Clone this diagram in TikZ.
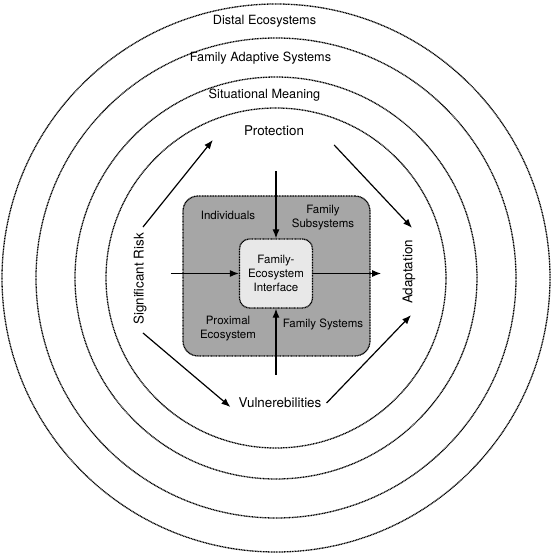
\documentclass[tikz,border=0pt]{standalone}
\usepackage{fontspec}
\setmainfont{TeX Gyre Heros}
\usetikzlibrary{arrows.meta}

\begin{document}
\begin{tikzpicture}[
        x=1pt, y=1pt,
        ring/.style={line width=1.3pt, dash pattern=on 1pt off 0.6pt},
        ringlbl/.style={font=\fontsize{12.7}{15}\selectfont, inner sep=2pt},
        midlbl/.style={font=\fontsize{13.4}{16}\selectfont, inner sep=2pt},
        boxlbl/.style={font=\fontsize{11.5}{14}\selectfont, align=center, inner sep=1pt},
        panel/.style={draw=black, line width=1.3pt, dash pattern=on 1pt off 0.6pt},
        arrow/.style={line width=1.2pt, -{Latex[length=9pt, width=7pt]}}
    ]
        \useasboundingbox (0, 0) rectangle (555, 555);

        \coordinate (c) at (276, 277);
        \draw[ring] (c) circle[radius=170pt];
        \draw[ring] (c) circle[radius=201pt];
        \draw[ring] (c) circle[radius=240pt];
        \draw[ring] (c) circle[radius=274pt];

        \node[ringlbl] (lbl_dist) at (264.5, 534) {Distal Ecosystems};
        \node[ringlbl] (lbl_fas) at (260.5, 497) {Family Adaptive Systems};
        \node[ringlbl] (lbl_sit) at (264.5, 460) {Situational Meaning};

        \node[panel, fill=black!35, rounded corners=15pt, minimum width=187pt, minimum height=160pt] (box_outer) at (276.5, 279) {};
        \node[panel, fill=black!9, rounded corners=10pt, minimum width=73pt, minimum height=69pt, boxlbl, inner sep=0pt] (box_inner) at (276, 281.5) {Family-\\Ecosystem\\Interface};

        \node[boxlbl] (lbl_ind) at (228, 340) {Individuals};
        \node[boxlbl] (lbl_sub) at (323, 337) {Family\\Subsystems};
        \node[boxlbl] (lbl_prox) at (228, 226) {Proximal\\Ecosystem};
        \node[boxlbl] (lbl_fsys) at (323, 231) {Family Systems};

        \node[midlbl] (lbl_prot) at (274, 424) {Protection};
        \node[midlbl] (lbl_vuln) at (280, 152) {Vulnerebilities};
        \node[midlbl, rotate=90] (lbl_risk) at (140, 276) {Significant Risk};
        \node[midlbl, rotate=90] (lbl_adapt) at (409, 283) {Adaptation};

        \draw[arrow] ([shift={(3pt,4pt)}]lbl_risk.east) -- ([shift={(-29pt,-9pt)}]lbl_prot.west);
        \draw[arrow] ([shift={(28pt,-14pt)}]lbl_prot.east) -- ([shift={(3pt,10pt)}]lbl_adapt.east);
        \draw[arrow] ([shift={(3pt,-6pt)}]lbl_risk.west) -- ([shift={(-6pt,-4pt)}]lbl_vuln.west);
        \draw[arrow] ([shift={(3pt,0pt)}]lbl_vuln.east) -- ([shift={(2pt,-9pt)}]lbl_adapt.west);

        \draw[arrow] ([yshift=67pt]box_inner.north) -- (box_inner.north);
        \draw[arrow] ([yshift=-66pt]box_inner.south) -- (box_inner.south);
        \draw[arrow] ([xshift=-68pt]box_inner.west) -- (box_inner.west);
        \draw[arrow] (box_inner.east) -- ([xshift=68pt]box_inner.east);
    \end{tikzpicture}
\end{document}
